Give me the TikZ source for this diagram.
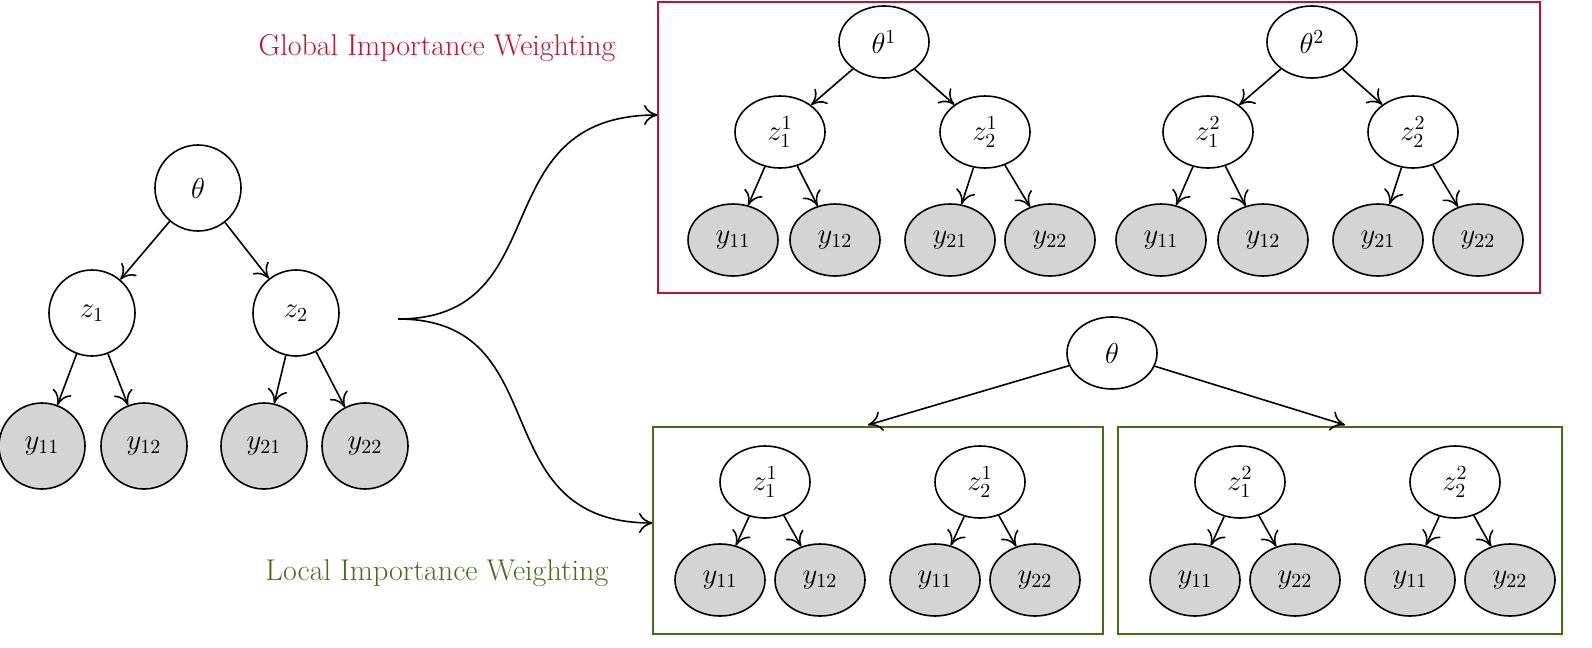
\documentclass[tikz,border=0pt]{standalone}
\usepackage{amsmath}
\usetikzlibrary{arrows.meta,shapes.geometric}
\definecolor{gred}{RGB}{190,20,50}
\definecolor{lgreen}{RGB}{70,110,20}
\begin{document}
\begin{tikzpicture}[x=0.5pt,y=-0.5pt,
  font=\fontsize{14}{16}\selectfont,
  lat/.style={ellipse,draw,thick,minimum width=45pt,minimum height=36pt,inner sep=0pt},
  obs/.style={lat,fill=black!17},
  cl/.style={circle,draw,thick,minimum size=43pt,inner sep=0pt},
  clo/.style={cl,fill=black!17},
  ar/.style={thick,-{To[length=7pt,width=10pt]}},
  box/.style={thick}]
\useasboundingbox (0,0) rectangle (1592,648);
% left tree
\node[cl] (t) at (198,188) {$\theta$};
\node[cl] (z1) at (92,313) {$z_1$};
\node[cl] (z2) at (296,313) {$z_2$};
\node[clo] (a1) at (42,446) {$y_{11}$};
\node[clo] (a2) at (144,446) {$y_{12}$};
\node[clo] (a3) at (264,446) {$y_{21}$};
\node[clo] (a4) at (365,446) {$y_{22}$};
\foreach \a/\b in {t/z1,t/z2,z1/a1,z1/a2,z2/a3,z2/a4} \draw[ar] (\a) -- (\b);
% big arrows
\coordinate (s) at (398,319);
\coordinate (e1) at (658,115);
\coordinate (e2) at (653,523);
\draw[ar] (s) .. controls (560,319) and (480,115) .. (e1);
\draw[ar] (s) .. controls (560,319) and (480,523) .. (e2);
% global
\node[draw=gred,box,minimum width=441pt,minimum height=145.5pt,inner sep=0pt] (gb) at (1099,147.5) {};
\node[text=gred,font=\fontsize{15}{17}\selectfont] (gl) at (437,48) {Global Importance Weighting};
\foreach \k/\x in {1/884,2/1312}{
  \node[lat] (th\k) at (\x,42) {$\theta^{\k}$};
  \node[lat] (za\k) at (\x-104,132) {$z_1^{\k}$};
  \node[lat] (zb\k) at (\x+101,132) {$z_2^{\k}$};
  \node[obs] (ya\k) at (\x-151,240) {$y_{11}$};
  \node[obs] (yb\k) at (\x-49,240) {$y_{12}$};
  \node[obs] (yc\k) at (\x+66,240) {$y_{21}$};
  \node[obs] (yd\k) at (\x+166,240) {$y_{22}$};
  \foreach \a/\b in {th/za,th/zb,za/ya,za/yb,zb/yc,zb/yd} \draw[ar] (\a\k) -- (\b\k);
}
% local
\node[text=lgreen,font=\fontsize{15}{17}\selectfont] (ll) at (437,573) {Local Importance Weighting};
\node[draw=lgreen,box,minimum width=225pt,minimum height=103.5pt,inner sep=0pt] (lb1) at (878,530.5) {};
\node[draw=lgreen,box,minimum width=222pt,minimum height=103.5pt,inner sep=0pt] (lb2) at (1340,530.5) {};
\node[lat] (lt) at (1112,353) {$\theta$};
\coordinate (c1) at (868,425);
\coordinate (c2) at (1345,425);
\draw[ar] (lt) -- (c1);
\draw[ar] (lt) -- (c2);
\foreach \k/\x in {1/765,2/1240}{
  \node[lat] (la\k) at (\x,482) {$z_1^{\k}$};
  \node[lat] (lbz\k) at (\x+215,482) {$z_2^{\k}$};
  \node[obs] (p\k) at (\x-45,580) {$y_{11}$};
  \node[obs] (q\k) at (\x+55,580) {$\ifnum\k=1 y_{12}\else y_{22}\fi$};
  \node[obs] (r\k) at (\x+170,580) {$y_{11}$};
  \node[obs] (u\k) at (\x+270,580) {$y_{22}$};
  \foreach \a/\b in {la/p,la/q,lbz/r,lbz/u} \draw[ar] (\a\k) -- (\b\k);
}
\end{tikzpicture}
\end{document}
